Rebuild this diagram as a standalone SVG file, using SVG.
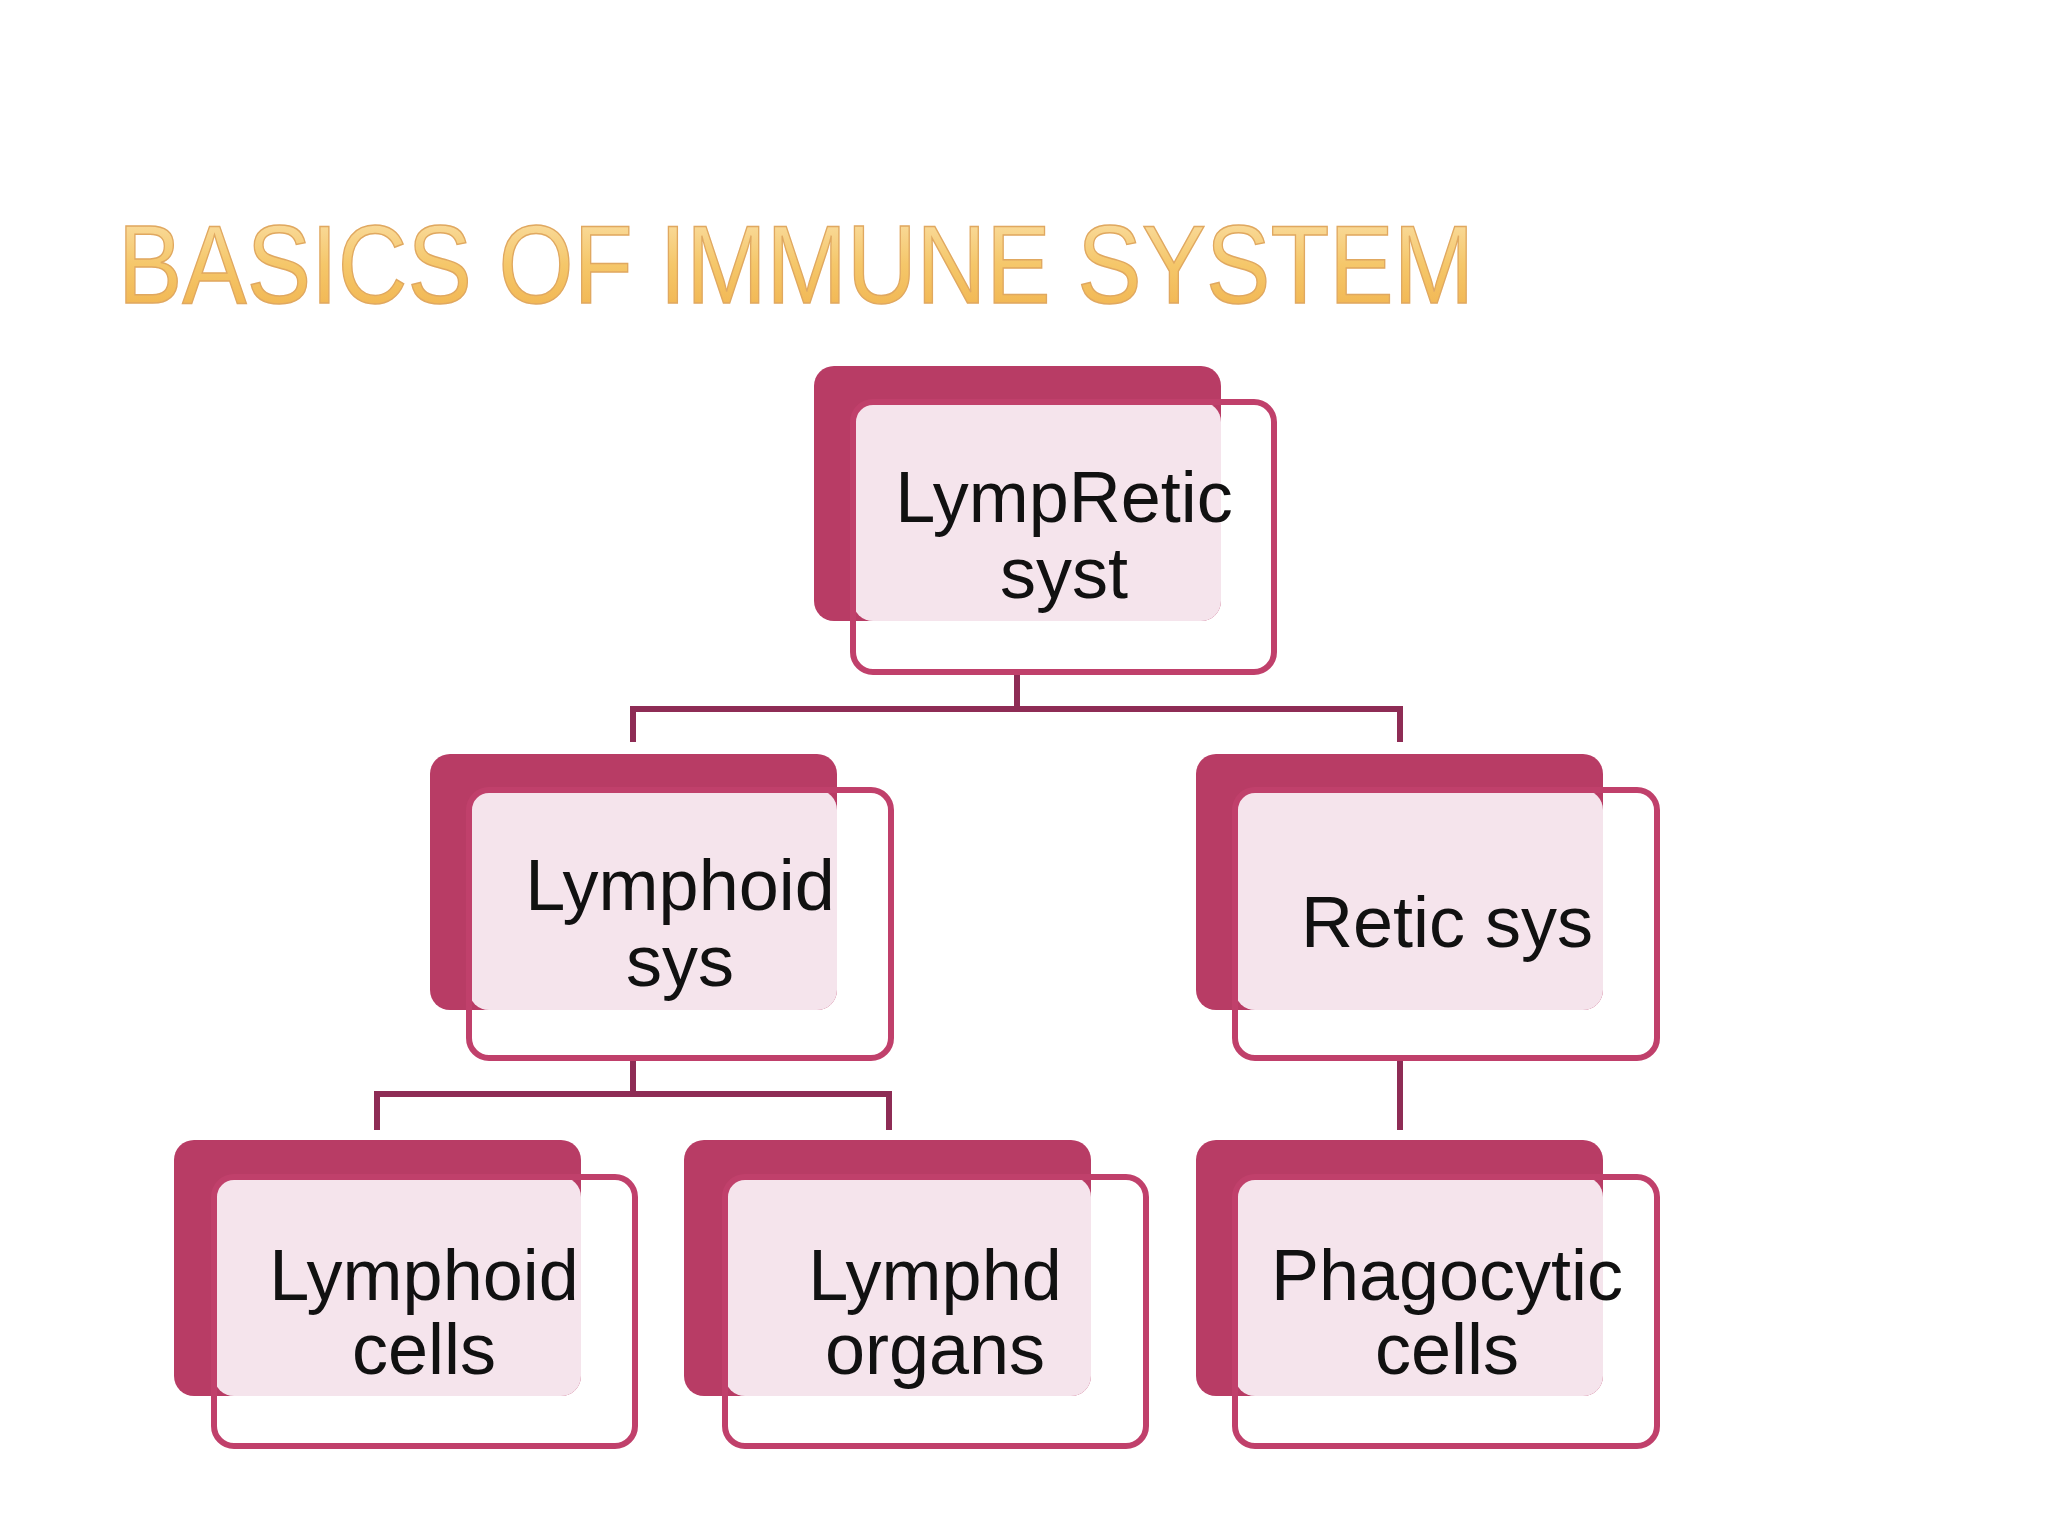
<svg xmlns="http://www.w3.org/2000/svg" width="2048" height="1536" viewBox="0 0 2048 1536">
<defs>
<linearGradient id="tg" x1="0" y1="0" x2="0" y2="1">
<stop offset="0" stop-color="#fbe3b0"/><stop offset="0.5" stop-color="#f5c76a"/><stop offset="1" stop-color="#f0b04a"/>
</linearGradient>
<style>
.dk{fill:#b83c65}
.pk{fill:#f5e4ec}
.ol{fill:none;stroke:#c0406b;stroke-width:6}
.t{font-family:"Liberation Sans",Arial,sans-serif;font-size:72px;fill:#111;text-anchor:middle}
.c{fill:none;stroke:#8e2c55;stroke-width:6}
</style>
</defs>
<rect width="2048" height="1536" fill="#fff"/>
<text x="118" y="303" font-family="Liberation Sans,Arial,sans-serif" font-size="112" fill="url(#tg)" stroke="#e0a860" stroke-width="1.5" textLength="1356" lengthAdjust="spacingAndGlyphs">BASICS OF IMMUNE SYSTEM</text>
<g id="connectors">
<path class="c" d="M1017 672V709M633 742V709H1400V742"/>
<path class="c" d="M633 1058V1094M377 1130V1094H889V1130"/>
<path class="c" d="M1400 1058V1130"/>
</g>
<g id="n1"><rect class="dk" x="814" y="366" width="407" height="255" rx="20"/><rect class="pk" x="853" y="402" width="368" height="219" rx="20"/><rect class="ol" x="853" y="402" width="421" height="270" rx="20"/><text class="t" x="1064" y="522">LympRetic</text><text class="t" x="1064" y="598">syst</text></g>
<g id="n2"><rect class="dk" x="430" y="754" width="407" height="256" rx="20"/><rect class="pk" x="469" y="790" width="368" height="220" rx="20"/><rect class="ol" x="469" y="790" width="422" height="268" rx="20"/><text class="t" x="680" y="910">Lymphoid</text><text class="t" x="680" y="986">sys</text></g>
<g id="n3"><rect class="dk" x="1196" y="754" width="407" height="256" rx="20"/><rect class="pk" x="1235" y="790" width="368" height="220" rx="20"/><rect class="ol" x="1235" y="790" width="422" height="268" rx="20"/><text class="t" x="1447" y="947">Retic sys</text></g>
<g id="n4"><rect class="dk" x="174" y="1140" width="407" height="256" rx="20"/><rect class="pk" x="214" y="1177" width="367" height="219" rx="20"/><rect class="ol" x="214" y="1177" width="421" height="269" rx="20"/><text class="t" x="424" y="1300">Lymphoid</text><text class="t" x="424" y="1374">cells</text></g>
<g id="n5"><rect class="dk" x="684" y="1140" width="407" height="256" rx="20"/><rect class="pk" x="725" y="1177" width="366" height="219" rx="20"/><rect class="ol" x="725" y="1177" width="421" height="269" rx="20"/><text class="t" x="935" y="1300">Lymphd</text><text class="t" x="935" y="1374">organs</text></g>
<g id="n6"><rect class="dk" x="1196" y="1140" width="407" height="256" rx="20"/><rect class="pk" x="1235" y="1177" width="368" height="219" rx="20"/><rect class="ol" x="1235" y="1177" width="422" height="269" rx="20"/><text class="t" x="1447" y="1300">Phagocytic</text><text class="t" x="1447" y="1374">cells</text></g>
</svg>
